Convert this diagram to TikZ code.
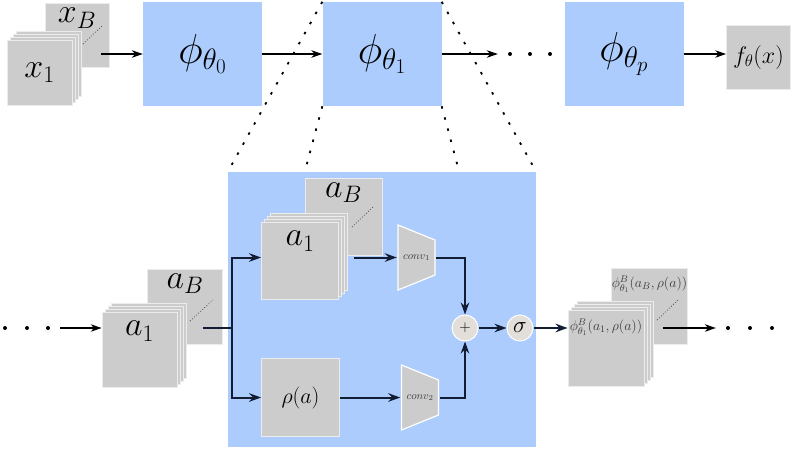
\documentclass[tikz,border=0pt]{standalone}
\usepackage{fix-cm}
\usepackage{amsmath}
\usepackage{tikz}
\usetikzlibrary{arrows.meta, positioning, calc}
\definecolor{boxblue}{RGB}{171,204,252}
\definecolor{sheetgray}{RGB}{204,204,204}
\definecolor{sheetedge}{RGB}{236,236,236}
\definecolor{opgray}{RGB}{226,222,218}
\definecolor{mynavy}{RGB}{18,28,50}
\definecolor{labgray}{RGB}{60,60,60}
\tikzset{
  blk/.style={rectangle, fill=boxblue, minimum width=119pt, minimum height=104pt,
    inner sep=0pt, font=\fontsize{42}{50}\selectfont},
  sheet/.style={rectangle, fill=sheetgray, draw=sheetedge, line width=0.8pt,
    minimum size=76pt, inner sep=0pt},
  lab/.style={font=\fontsize{34}{40}\selectfont},
  outlab/.style={font=\fontsize{14}{16}\selectfont, text=labgray, inner sep=8pt},
  conv/.style={rectangle, minimum width=39pt, minimum height=67pt, inner sep=0pt,
    font=\fontsize{11}{13}\selectfont, text=labgray,
    path picture={\filldraw[fill=sheetgray, draw=white, line width=1.2pt]
      ([xshift=1pt,yshift=-1pt]path picture bounding box.north west) --
      ([xshift=-1pt,yshift=-16pt]path picture bounding box.north east) --
      ([xshift=-1pt,yshift=16pt]path picture bounding box.south east) --
      ([xshift=1pt,yshift=1pt]path picture bounding box.south west) -- cycle;}},
  op/.style={circle, fill=opgray, draw=white, line width=1pt, minimum size=26pt,
    inner sep=0pt},
  dotnode/.style={circle, fill=black, inner sep=0pt, minimum size=4pt},
  arrow/.style={-{Stealth[length=11pt, width=7.5pt]}, line width=1.2pt, color=black},
  innerarrow/.style={-{Stealth[length=12pt, width=8.5pt]}, line width=2pt, color=mynavy},
  innerline/.style={line width=2pt, color=mynavy},
  zoomline/.style={line width=1.8pt, dash pattern=on 2.5pt off 9pt},
  stackdots/.style={dotted, line width=0.8pt, color=black!70}
}

\begin{document}
\begin{tikzpicture}[x=1pt, y=-1pt]
  \useasboundingbox (0,0) rectangle (795,450);

  % Input batch x_1 ... x_B
  \node[sheet, minimum size=64pt, label={[lab, anchor=north, inner sep=5pt]north:$x_B$}] (xB) at (77,35.5) {};
  \foreach \i in {3,2,1}
    \node[sheet, minimum size=65pt] (xl\i) at ({39.5+3*\i},{73-3*\i}) {};
  \node[sheet, minimum size=65pt, lab] (x1) at (39.5,73) {$x_1$};
  \draw[stackdots] (83,44) -- (103,25);

  % Layers of the network
  \node[blk] (phi0) at (202.5,54) {$\phi_{\theta_0}$};
  \node[blk] (phi1) at (382,54) {$\phi_{\theta_1}$};
  \node[dotnode] (d1) at (510,54) {};
  \node[dotnode] (d2) at (530,54) {};
  \node[dotnode] (d3) at (550,54) {};
  \node[blk] (phip) at (624,54) {$\phi_{\theta_p}$};
  \node[sheet, minimum size=64pt, font=\fontsize{24}{28}\selectfont] (fout) at (758.5,57) {$f_\theta(x)$};

  % Zoomed view of phi_theta_1
  \node[rectangle, fill=boxblue, minimum width=308pt, minimum height=275pt, inner sep=0pt] (zoombox) at (382,309.5) {};
  \draw[zoomline] (phi1.north west) -- (zoombox.north west);
  \draw[zoomline] (phi1.south west) -- ($(zoombox.north west)+(77,0)$);
  \draw[zoomline] (phi1.south east) -- ($(zoombox.north east)+(-77,0)$);
  \draw[zoomline] (phi1.north east) -- (zoombox.north east);

  \draw[arrow] ([xshift=-8pt]xB.east |- phi0.west) -- (phi0.west);
  \draw[arrow] (phi0) -- (phi1);
  \draw[arrow, shorten >=10pt] (phi1) -- (d1);
  \draw[arrow] (phip.east) -- (fout.west |- phip.east);

  % Incoming activations a_1 ... a_B
  \node[dotnode] (e1) at (5,328) {};
  \node[dotnode] (e2) at (27,328) {};
  \node[dotnode] (e3) at (48,328) {};
  \node[sheet, minimum size=75pt, label={[lab, anchor=north, inner sep=5pt]north:$a_B$}] (aBl) at (185,306.5) {};
  \foreach \i in {3,2,1}
    \node[sheet, minimum size=75pt] (al\i) at ({139.5+3*\i},{350-3*\i}) {};
  \node[sheet, minimum size=75pt, label={[lab, anchor=north, inner sep=9pt]north:$a_1$}] (a1l) at (139.5,350) {};
  \draw[stackdots] (190,321) -- (213,300);
  \draw[arrow, shorten <=10pt] (e3) -- (e3 -| a1l.west);

  % Inside the block
  \coordinate (jn) at (232,328);
  \node[sheet, minimum size=77pt, label={[lab, anchor=north, inner sep=5pt]north:$a_B$}] (aBi) at (343.5,216.5) {};
  \foreach \i in {3,2,1}
    \node[sheet, minimum size=77pt] (ai\i) at ({300+3*\i},{261-3*\i}) {};
  \node[sheet, minimum size=77pt, label={[lab, anchor=north, inner sep=9pt]north:$a_1$}] (a1i) at (300,261) {};
  \draw[stackdots] (352,227) -- (373,207);
  \node[sheet, minimum size=78pt, font=\fontsize{22}{26}\selectfont] (rho) at (300.5,397.5) {$\rho(a)$};
  \node[conv] (c1) at (416.5,257.5) {$conv_1$};
  \node[conv] (c2) at (420,397.5) {$conv_2$};
  \node[op, font=\fontsize{15}{18}\selectfont] (plus) at (465,328) {$+$};
  \node[op, font=\fontsize{23}{26}\selectfont] (sig) at (520,328) {$\sigma$};

  \draw[innerline] ([xshift=-20pt]aBl.east |- jn) -- (jn);
  \draw[innerarrow] (jn) |- (a1i.west |- c1);
  \draw[innerarrow] (jn) |- (rho.west);
  \draw[innerarrow] ([xshift=15pt]a1i.east |- c1) -- (c1);
  \draw[innerarrow] (rho) -- (c2);
  \draw[innerarrow] (c1) -| (plus);
  \draw[innerarrow] (c2) -| (plus);
  \draw[innerarrow] (plus) -- (sig);

  % Outgoing activations
  \node[sheet, label={[outlab, anchor=north]north:$\phi^B_{\theta_1}(a_B,\rho(a))$}] (oB) at (649.5,306) {};
  \foreach \i in {3,2,1}
    \node[sheet] (ol\i) at ({606+3*\i},{348.5-3*\i}) {};
  \node[sheet, label={[outlab, anchor=north]north:$\phi^B_{\theta_1}(a_1,\rho(a))$}] (o1) at (606,348.5) {};
  \draw[stackdots] (657,320) -- (678,300);
  \draw[innerarrow] (sig) -- (sig -| o1.west);

  \node[dotnode] (g1) at (728,328) {};
  \node[dotnode] (g2) at (750,328) {};
  \node[dotnode] (g3) at (772,328) {};
  \draw[arrow, shorten >=10pt] ([xshift=19pt]o1.east |- g1) -- (g1);
\end{tikzpicture}
\end{document}
